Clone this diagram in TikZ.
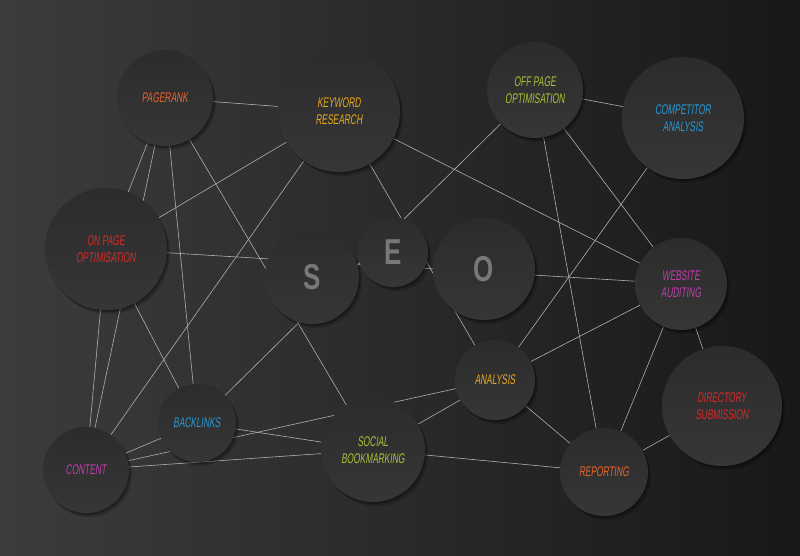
\documentclass[tikz,border=0pt]{standalone}
\usepackage{fontspec}
\newfontfamily\tagfont[FakeStretch=0.6,FakeSlant=0.12]{Liberation Sans}
\newfontfamily\seofont[FakeStretch=0.72]{Liberation Sans}
\usetikzlibrary{shadows}

\definecolor{bgLeft}{RGB}{60,60,60}
\definecolor{bgMid}{RGB}{44,44,44}
\definecolor{bgRight}{RGB}{24,24,24}
\definecolor{bubTop}{RGB}{44,44,44}
\definecolor{bubBot}{RGB}{54,54,54}
\definecolor{wireGray}{RGB}{175,175,175}
\definecolor{seoGray}{RGB}{120,120,120}
\definecolor{cOrange}{RGB}{228,100,46}
\definecolor{cGold}{RGB}{232,168,30}
\definecolor{cRed}{RGB}{212,42,42}
\definecolor{cLime}{RGB}{168,192,52}
\definecolor{cBlue}{RGB}{40,152,212}
\definecolor{cPink}{RGB}{192,62,172}

\pgfdeclarelayer{back}
\pgfdeclarelayer{wires}
\pgfsetlayers{back,wires,main}

\tikzset{
   bubble/.style={circle, minimum size=#1, inner sep=0pt, align=center,
      top color=bubTop, bottom color=bubBot,
      font=\tagfont\fontsize{14}{17}\selectfont,
      drop shadow={shadow xshift=1.5pt, shadow yshift=-2pt, opacity=0.25, fill=black},
      drop shadow={shadow xshift=3pt, shadow yshift=-4pt, opacity=0.2, fill=black}},
   letter/.style={bubble=#1, text=seoGray, font=\seofont\bfseries\fontsize{36}{36}\selectfont},
   wire/.style={draw=wireGray, line width=0.6pt}
}

\begin{document}
\begin{tikzpicture}[x=1pt,y=-1pt]

   \begin{pgfonlayer}{back}
   \shade [left color=bgLeft, middle color=bgMid, right color=bgRight] (0,0) rectangle (800,556);
   \end{pgfonlayer}
   \useasboundingbox (0,0) rectangle (800,556);

   \node (PageRank) at (165,98) [bubble=96, text=cOrange] {PAGERANK};
   \node (Keyword) at (339,111) [bubble=122, text=cGold] {KEYWORD\\RESEARCH};
   \node (OnPage) at (106,249) [bubble=122, text=cRed] {ON PAGE\\OPTIMISATION};
   \node (Content) at (86,470) [bubble=86, text=cPink] {CONTENT};
   \node (Backlinks) at (197,423) [bubble=78, text=cBlue] {BACKLINKS};
   \node (Social) at (373,450) [bubble=104, text=cLime] {SOCIAL\\BOOKMARKING};

   \node (SeoS) at (312,277) [letter=94] {S};
   \node (SeoE) at (393,252) [letter=70] {E};
   \node (SeoO) at (484,269) [letter=102] {O};

   \node (OffPage) at (535,90) [bubble=96, text=cLime] {OFF PAGE\\OPTIMISATION};
   \node (Competitor) at (683,118) [bubble=122, text=cBlue] {COMPETITOR\\ANALYSIS};
   \node (Website) at (681,284) [bubble=92, text=cPink] {WEBSITE\\AUDITING};
   \node (Directory) at (722,406) [bubble=120, text=cRed] {DIRECTORY\\SUBMISSION};
   \node (Analysis) at (495,380) [bubble=80, text=cGold] {ANALYSIS};
   \node (Reporting) at (604,472) [bubble=88, text=cOrange] {REPORTING};

   \begin{pgfonlayer}{wires}
   \draw [wire] (PageRank) -- (Keyword);
   \draw [wire] (PageRank) -- (OnPage);
   \draw [wire] (PageRank) -- (Content);
   \draw [wire] (PageRank) -- (Backlinks);
   \draw [wire] (PageRank) -- (Social);

   \draw [wire] (Keyword) -- (OnPage);
   \draw [wire] (Keyword) -- (Content);
   \draw [wire] (Keyword) -- (Website);
   \draw [wire] (Keyword) -- (Analysis);

   \draw [wire] (OnPage) -- (Website);
   \draw [wire] (OnPage) -- (Backlinks);
   \draw [wire] (OnPage) -- (Content);

   \draw [wire] (OffPage) -- (Competitor);
   \draw [wire] (OffPage) -- (Backlinks);
   \draw [wire] (OffPage) -- (Reporting);
   \draw [wire] (OffPage) -- (Website);

   \draw [wire] (Content) -- (Backlinks);
   \draw [wire] (Content) -- (Analysis);
   \draw [wire] (Content) -- (Social);
   \draw [wire] (Backlinks) -- (Social);
   \draw [wire] (Social) -- (Analysis);
   \draw [wire] (Social) -- (Reporting);

   \draw [wire] (Analysis) -- (Competitor);
   \draw [wire] (Analysis) -- (Website);
   \draw [wire] (Analysis) -- (Reporting);
   \draw [wire] (Reporting) -- (Website);
   \draw [wire] (Reporting) -- (Directory);
   \draw [wire] (Website) -- (Directory);
   \end{pgfonlayer}

\end{tikzpicture}
\end{document}
